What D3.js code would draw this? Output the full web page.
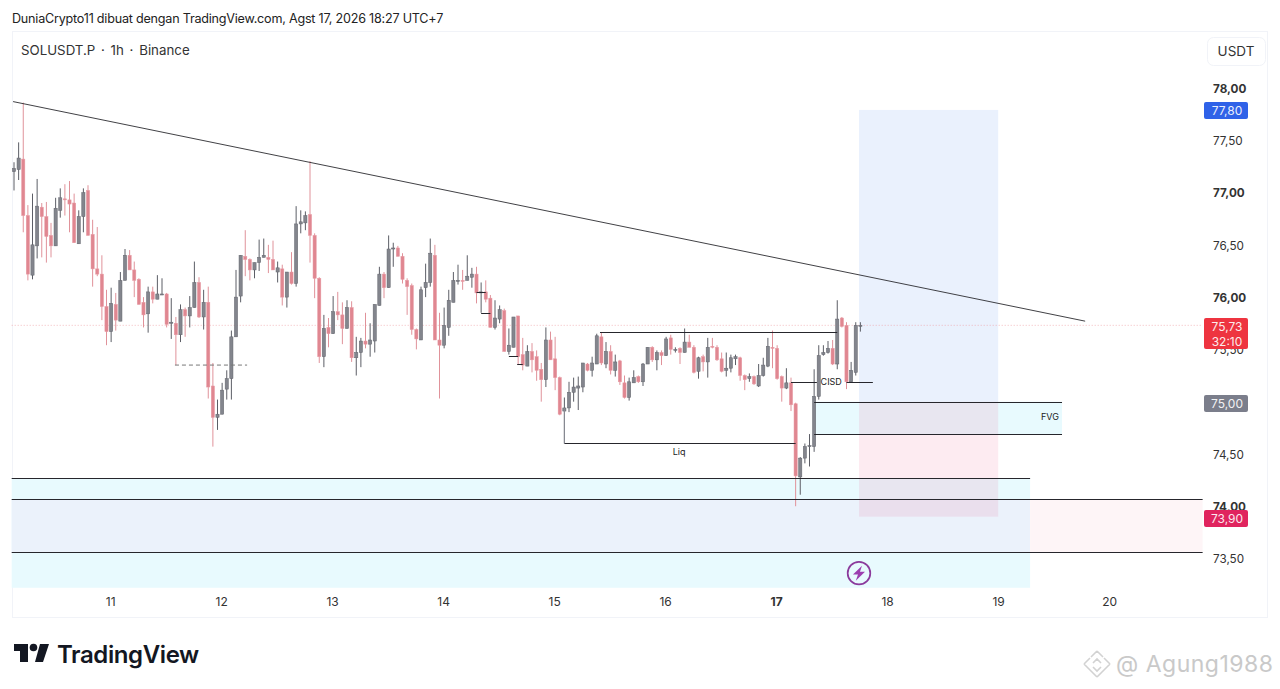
<!DOCTYPE html>
<html><head><meta charset="utf-8">
<script src="https://cdn.jsdelivr.net/npm/d3@7/dist/d3.min.js"></script>
<style>html,body{margin:0;padding:0;background:#fff;overflow:hidden}svg{display:block;font-family:Inter,"Noto Sans",sans-serif}</style>
</head><body><svg id="c" width="1280" height="689"></svg>
<script>
// Price candles, one per hour
const opens=[77.20,77.22,77.32,76.78,76.21,76.49,76.86,76.77,76.59,76.49,76.83,76.94,76.93,76.90,76.51,76.77,77.02,76.60,76.27,76.22,75.91,75.67,75.93,75.77,76.16,76.40,76.26,76.17,75.95,75.84,76.05,75.98,76.02,76.03,75.75,75.75,75.64,75.88,75.82,75.90,76.14,75.81,75.95,75.15,74.85,74.88,75.12,75.22,75.62,76.01,76.39,76.36,76.26,76.33,76.38,76.38,76.36,76.24,76.27,76.00,76.24,76.13,76.70,76.71,76.79,76.59,76.18,75.43,75.71,75.65,75.86,75.83,75.70,75.90,75.42,75.47,75.58,75.55,75.58,75.92,76.22,76.09,76.46,76.47,76.39,76.16,76.11,75.69,75.59,76.09,76.14,76.40,75.59,75.54,75.71,75.95,76.15,76.16,76.16,76.19,76.22,76.04,76.05,75.99,75.71,75.79,75.87,75.48,75.52,75.82,75.45,75.34,75.48,75.43,75.31,75.21,75.59,75.41,75.23,74.91,74.94,75.09,75.13,75.14,75.36,75.30,75.36,75.62,75.36,75.48,75.30,75.39,75.18,75.04,75.18,75.24,75.19,75.36,75.52,75.40,75.47,75.44,75.61,75.49,75.51,75.47,75.57,75.52,75.29,75.43,75.38,75.53,75.52,75.41,75.30,75.32,75.41,75.42,75.25,75.22,75.24,75.15,75.25,75.34,75.52,75.51,75.24,75.13,75.18,74.98,74.28,74.46,74.57,74.57,75.05,75.45,75.47,75.51,75.36,75.80,75.73,75.19,75.28,75.73];
const closes=[77.23,77.33,76.78,76.22,76.50,76.87,76.77,76.58,76.49,76.85,76.95,76.93,76.89,76.52,76.77,77.00,76.59,76.27,76.22,75.91,75.67,75.94,75.78,76.16,76.40,76.26,76.16,75.93,75.83,76.05,75.98,76.03,76.03,75.74,75.76,75.64,75.88,75.82,75.90,76.14,75.81,75.95,75.14,74.85,74.88,75.11,75.22,75.62,76.00,76.40,76.36,76.26,76.33,76.38,76.40,76.36,76.26,76.28,76.00,76.24,76.13,76.70,76.72,76.78,76.59,76.18,75.43,75.70,75.65,75.86,75.83,75.70,75.90,75.42,75.47,75.58,75.55,75.59,75.93,76.22,76.09,76.46,76.47,76.39,76.17,76.10,75.69,75.60,76.07,76.14,76.42,75.59,75.54,75.73,75.97,76.16,76.16,76.15,76.20,76.22,76.04,76.05,75.98,75.71,75.80,75.88,75.48,75.54,75.81,75.43,75.35,75.48,75.40,75.30,75.21,75.59,75.40,75.23,74.88,74.94,75.09,75.14,75.15,75.37,75.30,75.37,75.63,75.37,75.48,75.30,75.38,75.19,75.04,75.19,75.23,75.19,75.36,75.52,75.40,75.47,75.44,75.60,75.50,75.50,75.47,75.57,75.52,75.28,75.42,75.38,75.52,75.52,75.40,75.29,75.32,75.42,75.43,75.25,75.21,75.24,75.17,75.25,75.35,75.53,75.51,75.22,75.13,75.18,74.97,74.29,74.46,74.57,74.58,75.05,75.44,75.47,75.51,75.36,75.79,75.72,75.19,75.30,75.73,75.73];
const highs=[77.29,77.48,77.86,76.88,76.99,77.13,76.90,76.91,76.71,76.95,77.04,77.08,77.11,76.99,76.83,77.04,77.07,76.74,76.67,76.40,76.07,76.09,76.04,76.24,76.46,76.45,76.34,76.18,76.00,76.10,76.10,76.21,76.18,76.04,75.99,75.81,75.93,75.90,76.01,76.34,76.19,76.07,76.10,75.37,75.02,75.18,75.30,75.68,76.26,76.40,76.64,76.37,76.33,76.55,76.56,76.50,76.54,76.34,76.31,76.24,76.43,76.87,76.83,76.82,77.30,76.61,76.19,75.83,75.80,76.01,76.05,75.95,75.97,75.96,75.62,75.61,75.85,75.75,75.93,76.29,76.24,76.59,76.52,76.49,76.42,76.18,76.13,75.70,76.10,76.32,76.56,76.50,75.85,75.90,76.07,76.24,76.31,76.26,76.40,76.28,76.29,76.14,76.16,76.02,75.97,75.92,75.89,75.70,75.81,75.82,75.61,75.54,75.56,75.49,75.37,75.71,75.67,75.62,75.24,75.04,75.19,75.23,75.24,75.37,75.37,75.43,75.65,75.66,75.57,75.54,75.45,75.40,75.25,75.23,75.30,75.25,75.37,75.52,75.53,75.49,75.49,75.62,75.64,75.52,75.52,75.70,75.64,75.54,75.43,75.45,75.61,75.61,75.54,75.47,75.47,75.45,75.45,75.43,75.26,75.27,75.25,75.36,75.42,75.61,75.68,75.54,75.25,75.32,75.23,74.99,74.47,74.60,74.69,75.31,75.54,75.54,75.58,75.59,75.97,75.81,75.76,75.38,75.76,75.76];
const lows=[77.02,77.12,76.62,76.16,76.17,76.37,76.38,76.33,76.38,76.49,76.76,76.78,76.62,76.52,76.51,76.62,76.59,76.10,76.20,75.78,75.54,75.57,75.68,75.77,76.16,76.26,76.00,75.93,75.71,75.66,75.94,75.98,76.02,75.71,75.60,75.35,75.57,75.62,75.71,75.90,75.80,75.69,75.03,74.57,74.73,74.88,75.02,75.02,75.62,75.95,76.20,76.16,76.18,76.25,76.38,76.23,76.26,76.14,75.92,75.90,76.12,76.10,76.61,76.64,76.33,75.99,75.37,75.33,75.52,75.65,75.78,75.55,75.70,75.38,75.25,75.33,75.51,75.43,75.47,75.92,75.99,76.09,76.29,76.39,76.13,75.83,75.64,75.50,75.59,76.00,76.10,75.59,75.03,75.51,75.63,75.95,76.12,76.07,76.16,76.09,75.94,75.85,75.95,75.71,75.69,75.75,75.48,75.45,75.52,75.35,75.30,75.34,75.28,75.20,75.00,75.14,75.40,75.11,74.87,74.60,74.90,75.00,74.92,75.09,75.29,75.24,75.36,75.35,75.32,75.26,75.24,75.16,75.03,75.01,75.18,75.18,75.15,75.36,75.38,75.30,75.35,75.44,75.45,75.47,75.36,75.47,75.52,75.27,75.22,75.29,75.23,75.51,75.39,75.28,75.24,75.28,75.35,75.20,75.11,75.19,75.16,75.14,75.24,75.33,75.32,75.21,75.00,75.12,74.91,74.00,74.11,74.41,74.38,74.52,75.02,75.44,75.46,75.35,75.31,75.71,75.12,75.18,75.25,75.67];

// Hour index of the first candle of each day, and its label
const dayHours=[21,45,69,93,117,141,165,189,213,237];
const dayLabels=["11","12","13","14","15","16","17","18","19","20"];
const boldDay="17";
// Price axis
const priceTicks=[78,77.5,77,76.5,76,75.5,74.5,74,73.5];
const boldPrices=[78,77,76,74];
// Price tags: value, lines of text, colour
const tagPrices=[77.80,75.73,75.00,73.90];
const tagText=[["77,80"],["75,73","32:10"],["75,00"],["73,90"]];
const tagColors=["#2f62e8","#ee3440","#7b7e8b","#e0245e"];
// Drawing objects in chart units [hour, price]
const trendFrom=[-0.2,77.87], trendTo=[231.6,75.77];
const lastPrice=75.73;
// horizontal segments: hour0, hour1, price
const segHour0=[-0.5,-0.5,-0.5,119,126.7,173,173,168,180,100,101,107,108.8];
const segHour1=[219.7,257,257,169,178,226.6,226.6,173.6,185.7,102,103,109,110];
const segPrice=[74.27,74.07,73.56,74.60,75.67,75.00,74.69,75.19,75.19,76.05,75.85,75.44,75.36];
// fills: hour0, hour1, priceTop, priceBottom, colour
const zoneHour0=[-0.5,-0.5,219.7,173,182.7,182.7];
const zoneHour1=[219.7,219.7,257,226.6,212.8,212.8];
const zoneTop=[74.27,74.07,74.07,75.00,77.79,75.00];
const zoneBot=[73.22,73.56,73.56,74.69,75.00,73.90];
const zoneFill=["#e8fafe","#ebf2fb","#fef5f7","#e8fafe","rgba(70,135,240,.115)","rgba(233,30,99,.09)"];
const labelsTxt=["FVG","Liq","CISD"], labelsHour=[224,143.8,176.7], labelsPrice=[74.86,74.52,75.19];
const dashHours=[34.8,50.4], dashPrice=75.35;
const boltHour=182.7, boltPrice=73.36;

const svg=d3.select("#c");
const x=d3.scaleLinear().domain([0,257]).range([14,14+257*4.625]);
const y=d3.scaleLinear().domain([73.5,78]).range([558.5,88]);

// frame
svg.append("rect").attr("x",12.5).attr("y",31.5).attr("width",1255).attr("height",586).attr("fill","#fff").attr("stroke","#f1f3f8");

const clipG=svg.append("g");
clipG.selectAll("rect.z").data(zoneFill).join("rect").attr("class","z")
 .attr("x",(d,i)=>x(zoneHour0[i])).attr("width",(d,i)=>x(zoneHour1[i])-x(zoneHour0[i]))
 .attr("y",(d,i)=>y(zoneTop[i])).attr("height",(d,i)=>y(zoneBot[i])-y(zoneTop[i])).attr("fill",d=>d);

// last price line
clipG.append("line").attr("x1",x(-0.5)).attr("x2",x(257)).attr("y1",y(lastPrice)).attr("y2",y(lastPrice))
 .attr("stroke","#f0a0a8").attr("stroke-width",1).attr("stroke-dasharray","1 2").attr("opacity",.7);

// candles
const idx=d3.range(opens.length);
const isUp=i=>closes[i]>=opens[i];
const cg=svg.append("g");
cg.selectAll("line.w").data(idx).join("line").attr("class","w")
 .attr("x1",i=>x(i)).attr("x2",i=>x(i)).attr("y1",i=>y(highs[i])).attr("y2",i=>y(lows[i]))
 .attr("stroke",i=>isUp(i)?"#5c5e66":"#e0929a").attr("stroke-width",1);
cg.selectAll("rect.b").data(idx).join("rect").attr("class","b")
 .attr("x",i=>x(i)-1.6).attr("width",3.2)
 .attr("y",i=>y(Math.max(opens[i],closes[i])))
 .attr("height",i=>Math.max(1,Math.abs(y(opens[i])-y(closes[i]))))
 .attr("fill",i=>isUp(i)?"#83858d":"#e08791")
 .attr("stroke",i=>isUp(i)?"#63656d":"#e89aa4").attr("stroke-width",.5);

// segments
svg.append("g").selectAll("line").data(segPrice).join("line")
 .attr("x1",(d,i)=>x(segHour0[i])).attr("x2",(d,i)=>x(segHour1[i]))
 .attr("y1",d=>Math.round(y(d))+.5).attr("y2",d=>Math.round(y(d))+.5)
 .attr("stroke","#26262c").attr("stroke-width",1);
svg.append("line").attr("x1",x(119)).attr("x2",x(119)).attr("y1",y(74.94)).attr("y2",y(74.60)).attr("stroke","#8a8c94");
svg.append("line").attr("x1",x(trendFrom[0])).attr("y1",y(trendFrom[1])).attr("x2",x(trendTo[0])).attr("y2",y(trendTo[1]))
 .attr("stroke","#2b2b30").attr("stroke-width",.9);
svg.append("line").attr("x1",x(dashHours[0])).attr("x2",x(dashHours[1])).attr("y1",y(dashPrice)).attr("y2",y(dashPrice))
 .attr("stroke","#777").attr("stroke-dasharray","4 3");

svg.append("g").selectAll("text").data(labelsTxt).join("text")
 .attr("x",(d,i)=>x(labelsHour[i])).attr("y",(d,i)=>y(labelsPrice[i])).text(d=>d)
 .attr("text-anchor","middle").attr("dominant-baseline","central").attr("font-size",9).attr("fill","#222");

// lightning icon
const bx=x(boltHour), by=y(boltPrice);
const bolt=svg.append("g").attr("transform",`translate(${bx},${by})`);
bolt.append("circle").attr("r",11.3).attr("fill","none").attr("stroke","#8b3a9c").attr("stroke-width",1.7);
bolt.append("path").attr("d","M3,-7.5 L-6,1.4 L-1,1.4 L-3.2,7.5 L6,-1.4 L1,-1.4 Z").attr("fill","#9c3fb0");

// axes
const yAxis=d3.axisRight(y).tickValues(priceTicks).tickSize(0).tickPadding(0).tickFormat(d=>d3.format(".2f")(d).replace(".",","));
const ya=svg.append("g").attr("transform","translate(1213,0.5)").call(yAxis);
ya.select(".domain").remove();
ya.selectAll("text").attr("font-family","Inter,sans-serif").attr("font-size",11.7).attr("fill","#333")
 .attr("font-weight",d=>boldPrices.includes(d)?700:400);
const xAxis=d3.axisBottom(x).tickValues(dayHours).tickSize(0).tickPadding(0).tickFormat((d,i)=>dayLabels[i]);
const xa=svg.append("g").attr("transform","translate(-1,597)").call(xAxis);
xa.select(".domain").remove();
xa.selectAll("text").attr("font-family","Inter,sans-serif").attr("font-size",12).attr("fill","#333")
 .attr("font-weight",(d,i)=>dayLabels[i]===boldDay?700:400);

// price tags
const tags=svg.append("g");
tagPrices.forEach((p,i)=>{
 const lines=tagText[i], h=lines.length===1?17:31;
 const ty=Math.ceil(y(p)-7.5);
 tags.append("rect").attr("x",1204).attr("y",ty).attr("width",44).attr("height",h).attr("rx",2).attr("fill",tagColors[i]);
 lines.forEach((t,j)=>tags.append("text").attr("x",1227).attr("y",ty+8.5+j*14.5).attr("text-anchor","middle")
  .attr("dominant-baseline","central").attr("font-size",12).attr("fill","#fff").attr("opacity",.9).text(t));
});

// header
svg.append("text").attr("x",12).attr("y",23).attr("font-size",12.6).attr("letter-spacing",-.22).attr("fill","#222")
 .text("DuniaCrypto11 dibuat dengan TradingView.com, Agst 17, 2026 18:27 UTC+7");
svg.append("text").attr("x",21).attr("y",55).attr("font-size",13.3).attr("word-spacing",2).attr("fill","#333").text("SOLUSDT.P · 1h · Binance");
svg.append("rect").attr("x",1207.5).attr("y",37.5).attr("width",58).attr("height",28).attr("rx",6).attr("fill","#fff").attr("stroke","#f1f3f8");
svg.append("text").attr("x",1236).attr("y",56).attr("text-anchor","middle").attr("font-size",13.5).attr("fill","#333").text("USDT");

// brand
const logo=svg.append("g").attr("fill","#131722");
logo.append("path").attr("d","M14,644 H28 V662 H20 V651 H14 Z M35,662 L40,644 H49 L43,662 Z");
logo.append("circle").attr("cx",33.5).attr("cy",647.5).attr("r",3.8);
svg.append("text").attr("x",57).attr("y",662.5).attr("font-size",24).attr("font-weight",600).attr("letter-spacing",-.4).attr("fill","#131722").text("TradingView");

// watermark
const wm=svg.append("g").attr("transform","translate(1097,664)").attr("fill","none").attr("stroke","#d2d2d2").attr("stroke-width",1.6);
wm.append("path").attr("d","M0,-13 L6,-7 M0,-13 L-6,-7 M-13,0 L-7,-6 M-13,0 L-7,6 M13,0 L7,-6 M13,0 L7,6 M0,13 L-7,6 M0,13 L7,6 M-4,-1 L0,-5 L4,-1 M-4,3 L0,7 L4,3");
svg.append("text").attr("x",1116).attr("y",672).attr("font-size",23).attr("fill","#c9c9c9").attr("letter-spacing",.5).text("@ Agung1988");
</script></body></html>
